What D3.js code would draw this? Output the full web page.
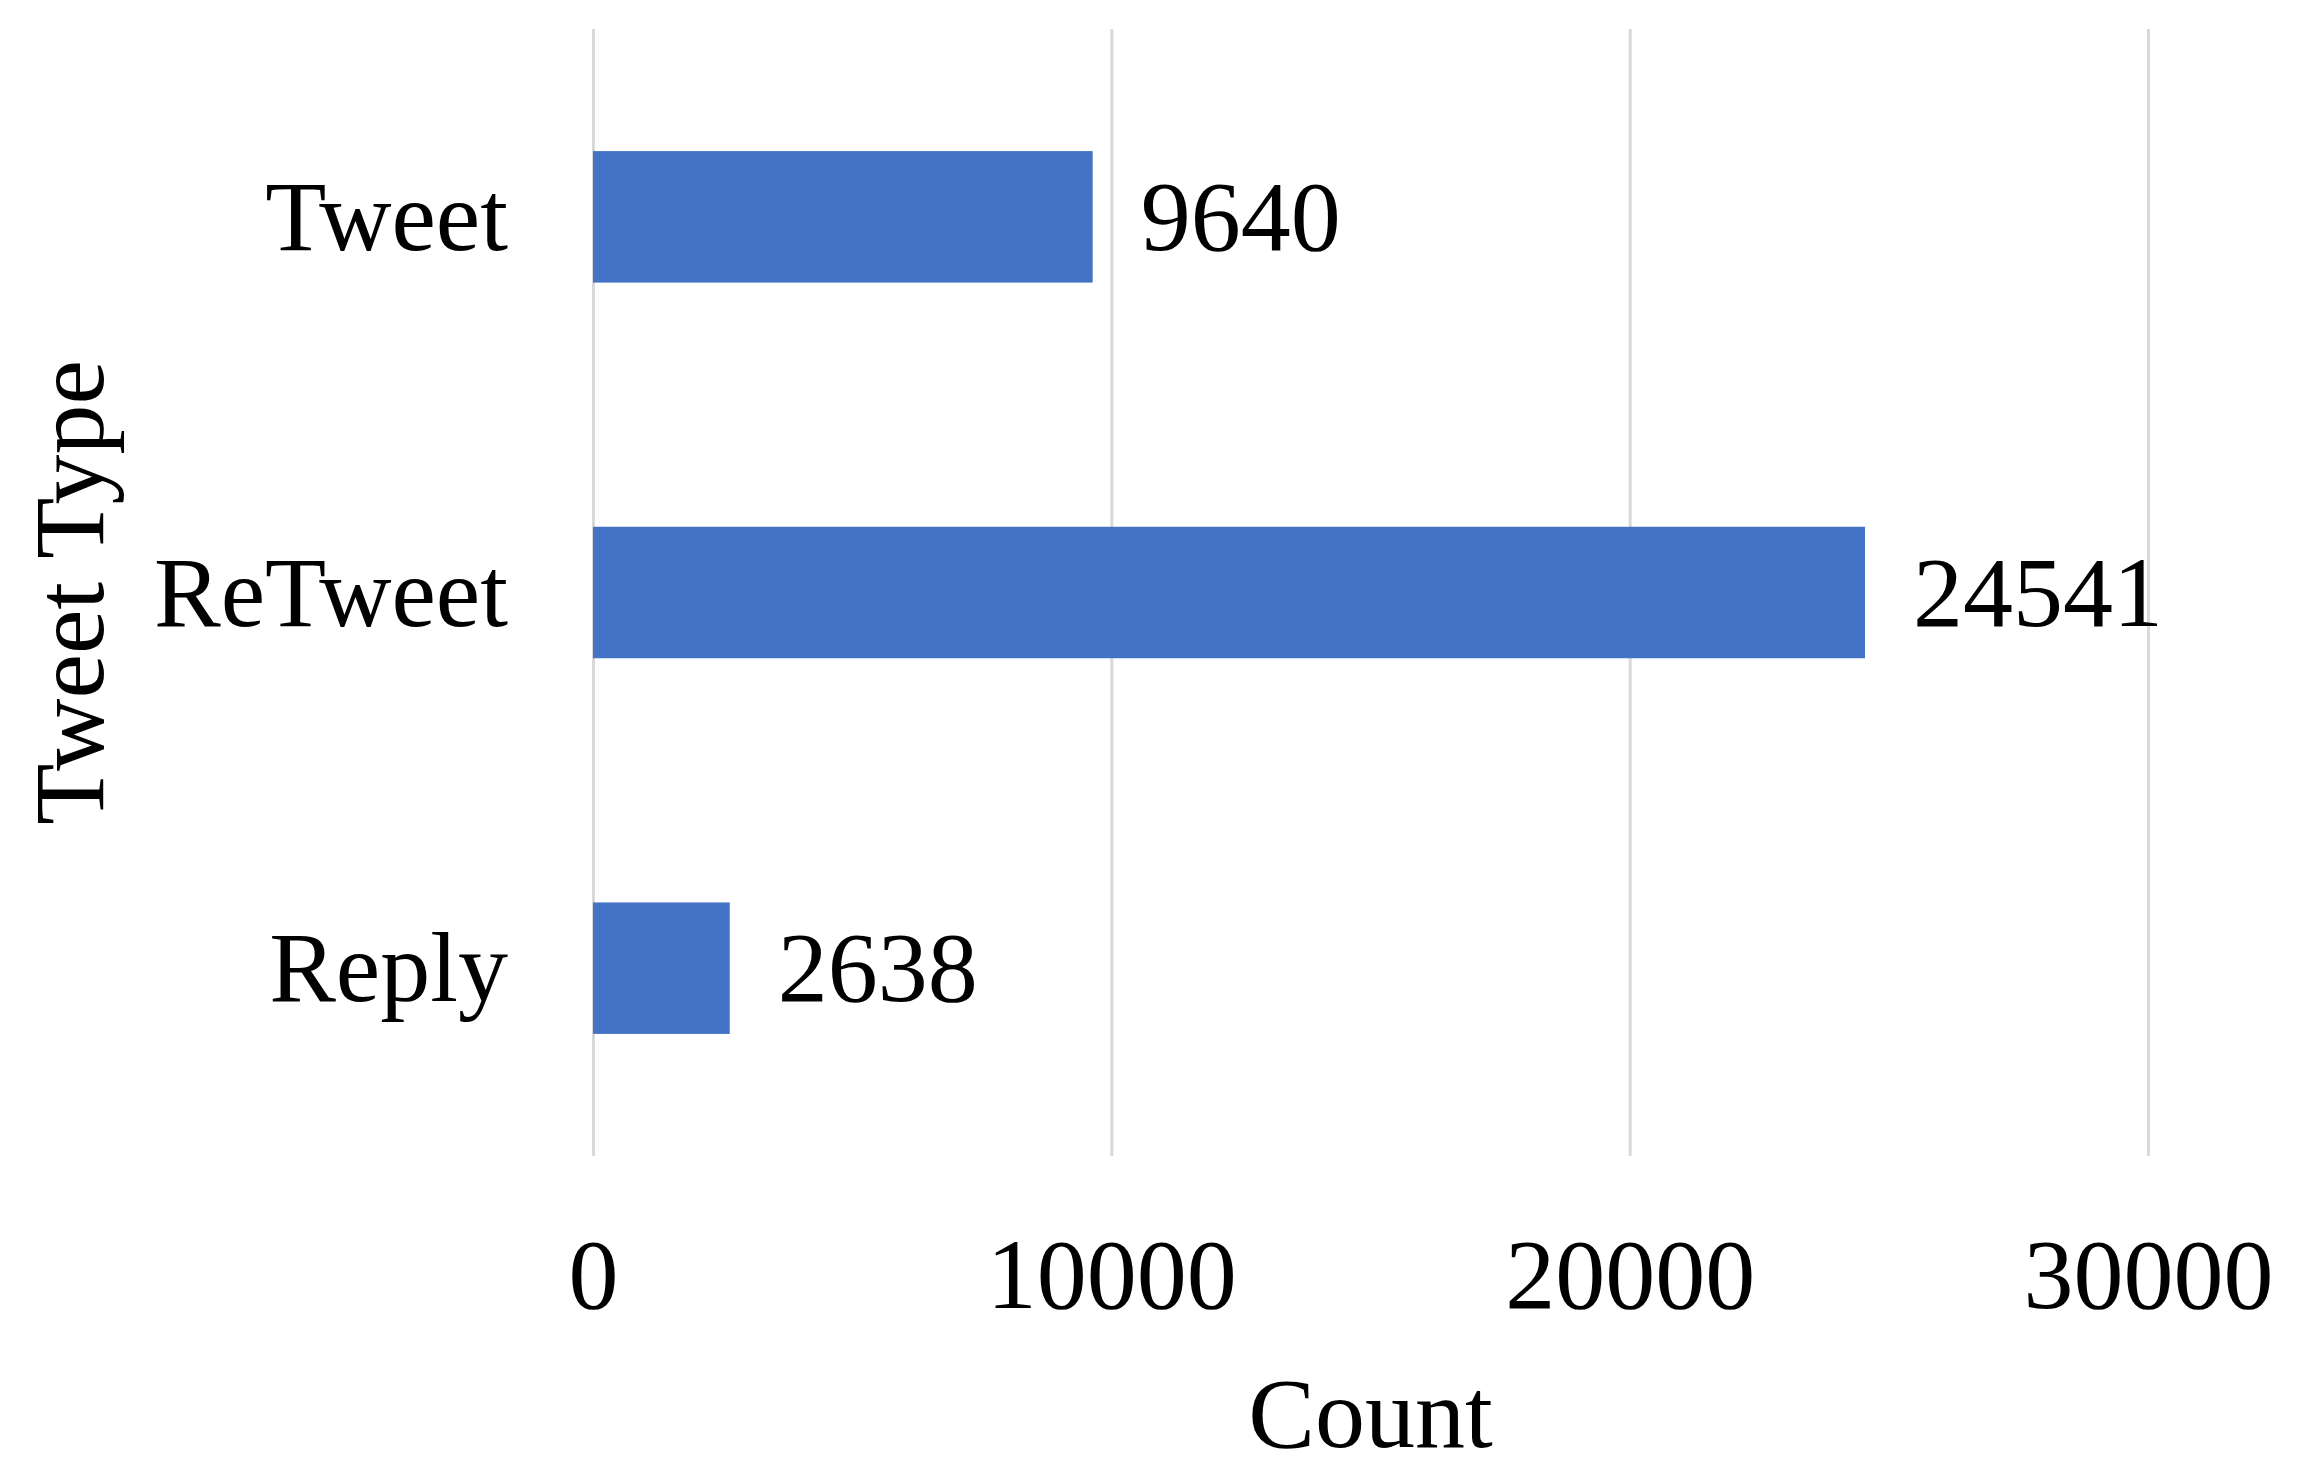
<!DOCTYPE html>
<html>
<head>
<meta charset="utf-8">
<script src="https://cdn.jsdelivr.net/npm/d3@7"></script>
<style>
  body { margin: 0; background: #fff; }
  text { font-family: "Liberation Serif", "Times New Roman", serif; fill: #000; }
</style>
</head>
<body>
<script>
// Data
const categories = ["Tweet", "ReTweet", "Reply"];
const counts = [9640, 24541, 2638];
const xTicks = [0, 10000, 20000, 30000];
const xTitle = "Count";
const yTitle = "Tweet Type";

// Sizes
const W = 2299, H = 1477;
const margin = { top: 29, right: 151, bottom: 321, left: 593 };
const innerW = W - margin.left - margin.right;
const innerH = H - margin.top - margin.bottom;
const fontSize = 100;

const svg = d3.select("body").append("svg")
  .attr("width", W)
  .attr("height", H);

const g = svg.append("g")
  .attr("transform", `translate(${margin.left},${margin.top})`);

const x = d3.scaleLinear().domain([0, 30000]).range([0, innerW]);
const y = d3.scaleBand().domain(categories).range([0, innerH])
  .paddingInner(0.65).paddingOuter(0.325);

// Grid + bottom tick labels
const xAxis = g.append("g")
  .attr("transform", `translate(0,${innerH})`)
  .call(d3.axisBottom(x).tickValues(xTicks).tickFormat(d3.format("d"))
    .tickSizeInner(-innerH).tickSizeOuter(0));
xAxis.select(".domain").remove();
xAxis.selectAll("line").attr("stroke", "#d9d9d9").attr("stroke-width", 3);
xAxis.selectAll("text")
  .attr("y", 152).attr("dy", null)
  .style("font-size", fontSize + "px")
  .attr("fill", "#000");

// Category labels
const yAxis = g.append("g")
  .call(d3.axisLeft(y).tickSize(0).tickPadding(85));
yAxis.select(".domain").remove();
yAxis.selectAll("text")
  .attr("dy", "0.33em")
  .style("font-size", fontSize + "px")
  .attr("fill", "#000");

// Bars
const rows = categories.map((c, i) => ({ name: c, value: counts[i] }));
g.selectAll("rect.bar")
  .data(rows)
  .enter().append("rect")
  .attr("class", "bar")
  .attr("x", 0)
  .attr("y", d => y(d.name))
  .attr("width", d => x(d.value))
  .attr("height", y.bandwidth())
  .attr("fill", "#4472c4");

// Value labels
g.selectAll("text.val")
  .data(rows)
  .enter().append("text")
  .attr("class", "val")
  .attr("x", d => x(d.value) + 48)
  .attr("y", d => y(d.name) + y.bandwidth() / 2)
  .attr("dy", "0.33em")
  .style("font-size", fontSize + "px")
  .text(d => d.value);

// Axis titles
svg.append("text")
  .attr("x", margin.left + innerW / 2)
  .attr("y", 1447)
  .attr("text-anchor", "middle")
  .style("font-size", fontSize + "px")
  .text(xTitle);

svg.append("text")
  .attr("transform", `translate(103,${margin.top + innerH / 2}) rotate(-90)`)
  .attr("text-anchor", "middle")
  .style("font-size", fontSize + "px")
  .text(yTitle);
</script>
</body>
</html>
